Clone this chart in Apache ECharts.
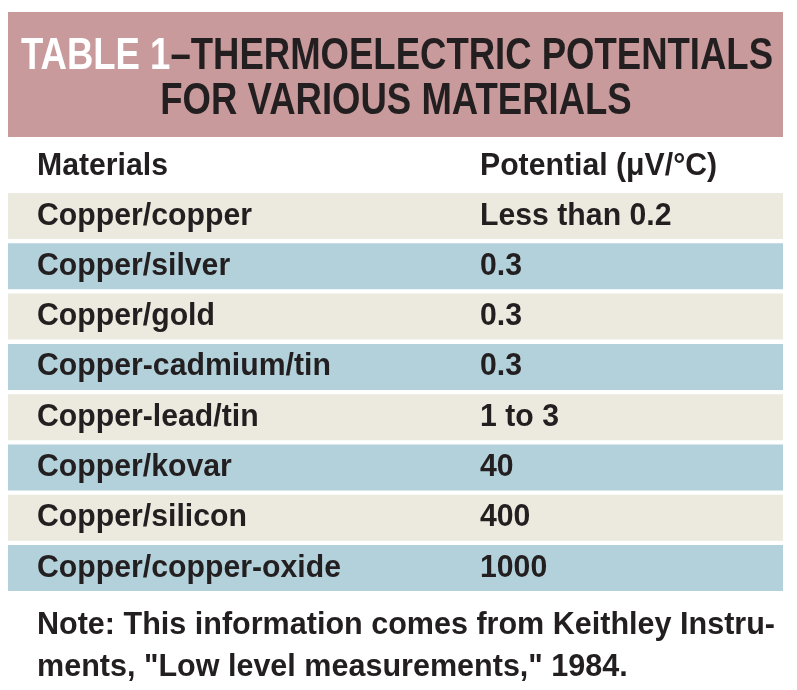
<!DOCTYPE html>
<html>
<head>
<meta charset="utf-8">
<script src="https://cdn.jsdelivr.net/npm/echarts@6/dist/echarts.min.js"></script>
<style>html,body{margin:0;width:100%;height:100%;background:#fff}#main{width:797px;height:690px}</style>
</head>
<body>
<div id="main"></div>
<script>
var materials = ['Copper/copper', 'Copper/silver', 'Copper/gold', 'Copper-cadmium/tin',
    'Copper-lead/tin', 'Copper/kovar', 'Copper/silicon', 'Copper/copper-oxide'];
var potentials = ['Less than 0.2', '0.3', '0.3', '0.3', '1 to 3', '40', '400', '1000'];
var headers = ['Materials', 'Potential (\u03BCV/\u00B0C)'];
var noteLines = ['Note: This information comes from Keithley Instru-',
    'ments, "Low level measurements," 1984.'];

var FONT = '"Liberation Sans", sans-serif';
var INK = '#231f20';
var chart = echarts.init(document.getElementById('main'));
var els = [];

function txt(x, y, s, sx) {
    return { type: 'text', x: x, y: y, scaleX: sx || 0.975,
        style: { text: s, fill: INK, font: 'bold 31px ' + FONT, verticalAlign: 'middle' } };
}

els.push({ type: 'rect', shape: { x: 8, y: 12, width: 775, height: 125 }, style: { fill: '#c99a9b' } });
els.push({ type: 'text', x: 397, y: 57, scaleX: 0.83, style: {
    rich: { w: { fill: '#fff', font: 'bold 44px ' + FONT }, d: { fill: INK, font: 'bold 44px ' + FONT } },
    text: '{w|TABLE 1}{d|\u2013THERMOELECTRIC POTENTIALS}', align: 'center', verticalAlign: 'middle' } });
els.push({ type: 'text', x: 396, y: 102, scaleX: 0.83, style: { text: 'FOR VARIOUS MATERIALS', fill: INK,
    font: 'bold 44px ' + FONT, align: 'center', verticalAlign: 'middle' } });

els.push(txt(37, 166, headers[0]));
els.push(txt(480, 166, headers[1]));

materials.forEach(function (m, i) {
    var top = 193 + i * 50.3;
    els.push({ type: 'rect', shape: { x: 8, y: top, width: 775, height: 46 },
        style: { fill: i % 2 ? '#b3d1db' : '#ece9df' } });
    els.push(txt(37, top + 23, m));
    els.push(txt(480, top + 23, potentials[i]));
});

noteLines.forEach(function (t, i) {
    els.push(txt(37, 625 + i * 42, t, 0.985));
});

chart.setOption({ graphic: { elements: els } });
</script>
</body>
</html>
